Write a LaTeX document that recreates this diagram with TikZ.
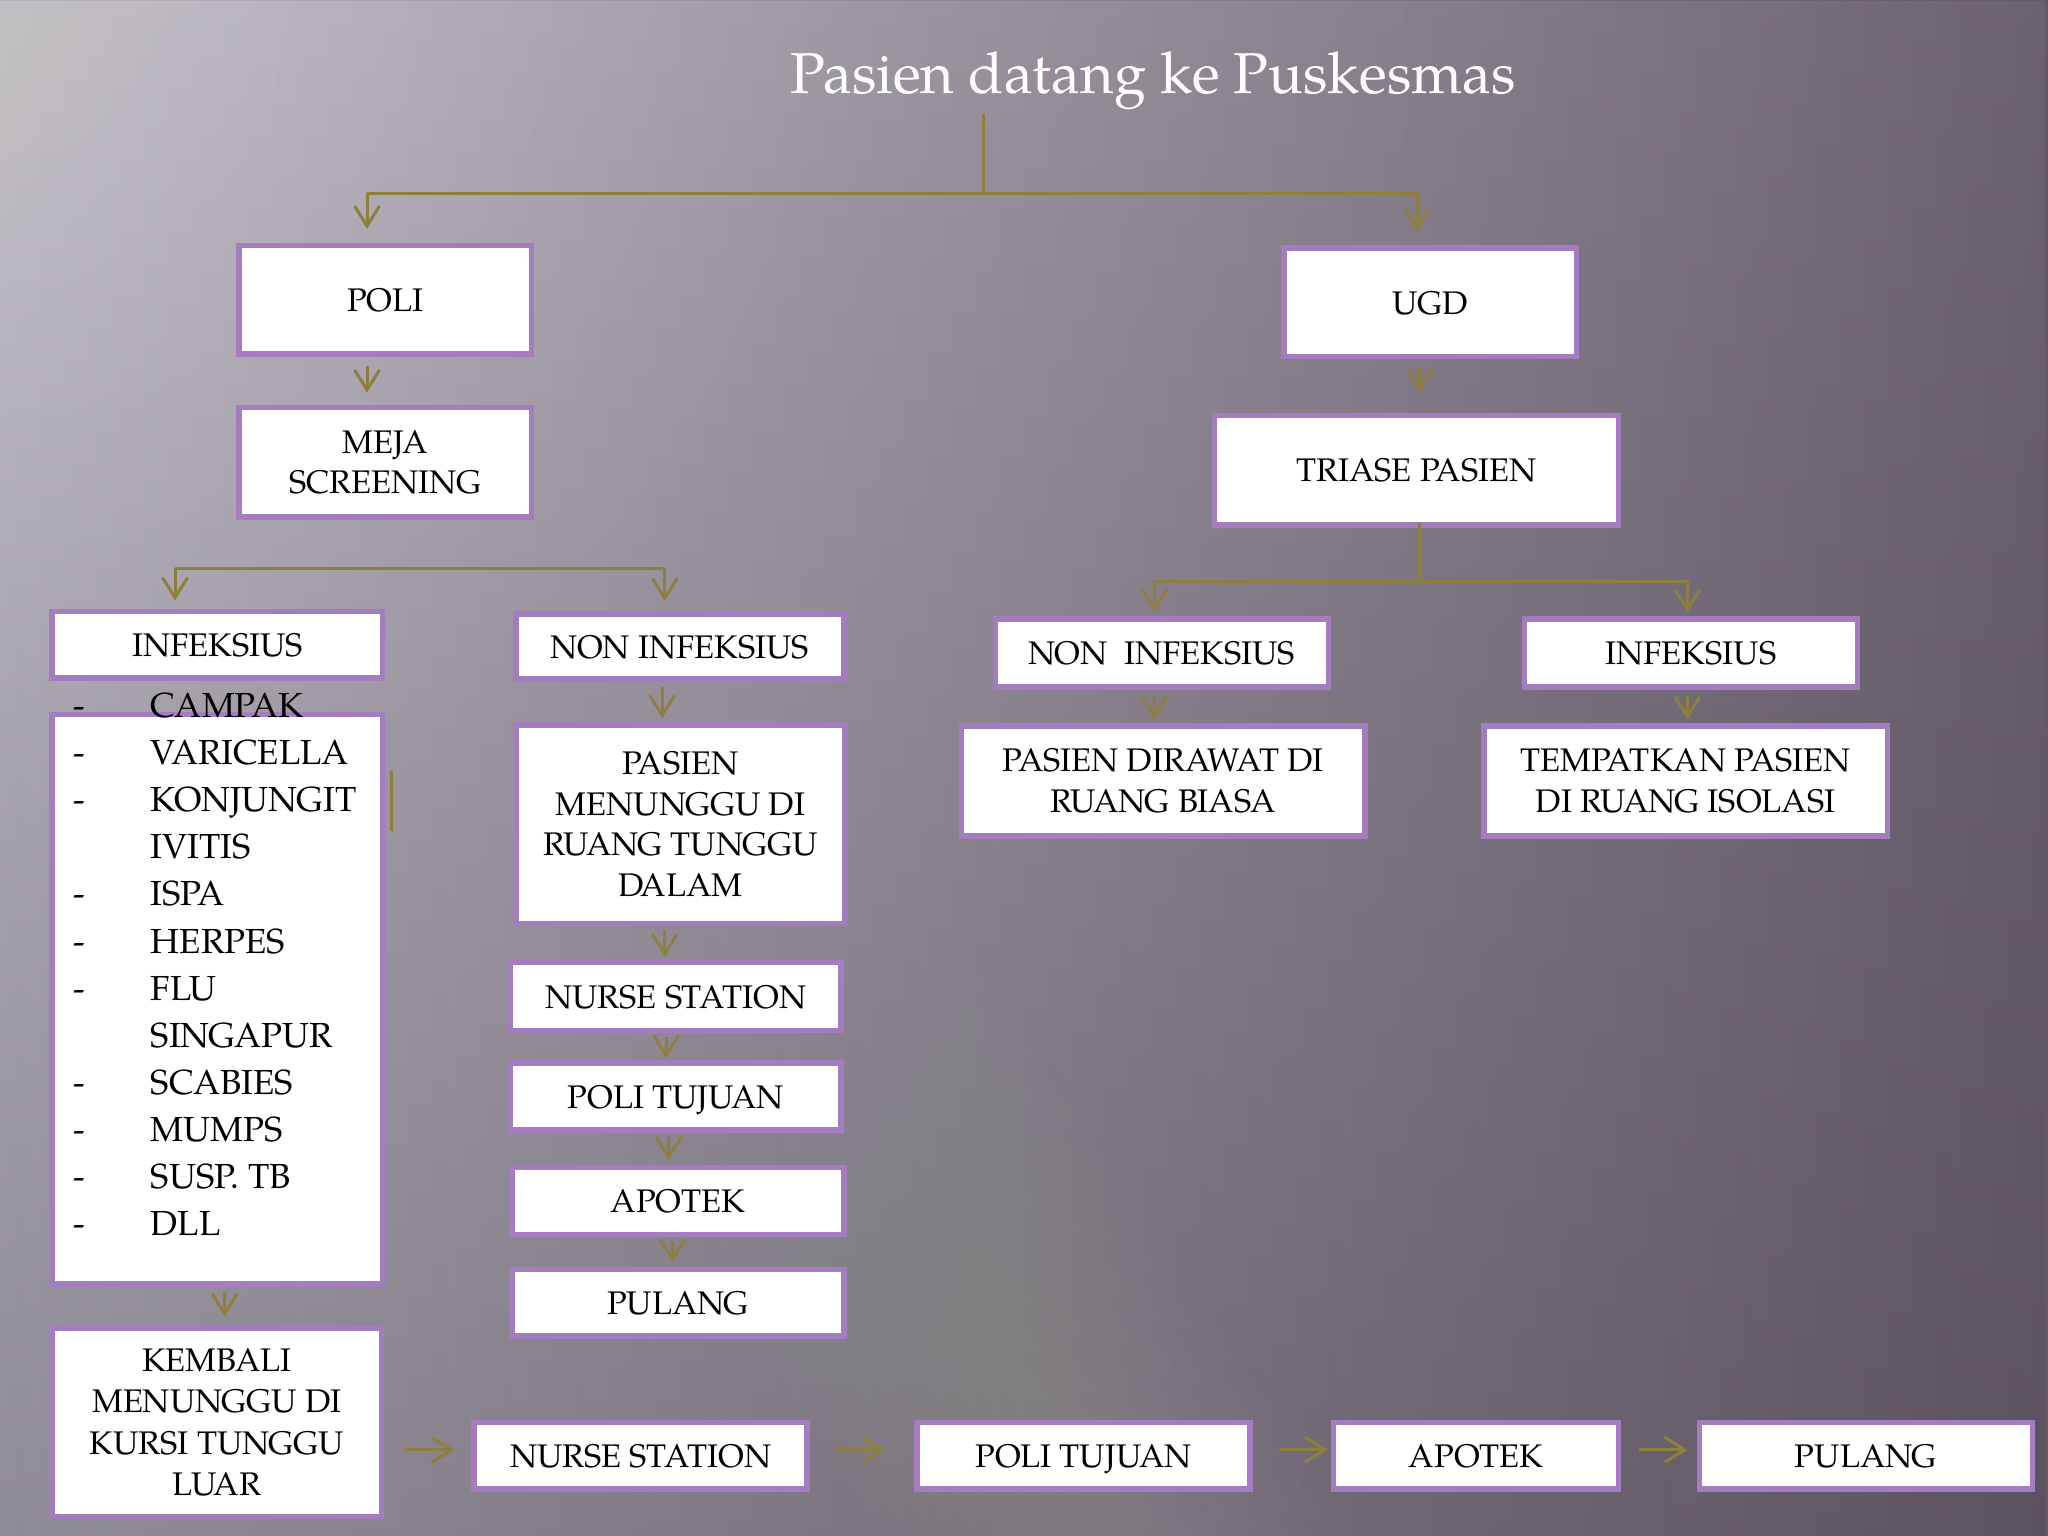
\documentclass[tikz,border=0pt]{standalone}
\usepackage{fontspec}
\setmainfont{texgyrepagella-regular.otf}
\usetikzlibrary{arrows.meta,fadings,calc}
\definecolor{bgL}{HTML}{B0ABB6}
\definecolor{bgM}{HTML}{7A7480}
\definecolor{bgR}{HTML}{625866}
\definecolor{brd}{HTML}{A47DC0}
\definecolor{lnc}{HTML}{8E7F3E}
\tikzfading[name=fadeR, left color=transparent!0, right color=transparent!65]
\def\upx{0.13061mm}
\tikzset{
  box/.style={draw=brd, fill=white, line width=0.55mm, inner sep=0pt, align=center,
    font=\fontsize{9.3}{11.6}\selectfont, text=black},
  sbox/.style={box, text height=0.69em, text depth=0.02em},
  ln/.style={draw=lnc, line width=0.3mm},
  arr/.style={ln, -{Straight Barb[length=2mm,width=2.5mm]}},
}
\begin{document}
\begin{tikzpicture}[x=0.13061mm, y=-0.13061mm]
\useasboundingbox (0,0) rectangle (1568,1176);
% background
\shade[left color=bgL, middle color=bgM, right color=bgR] (0,0) rectangle (1568,1176);
\shade[top color=white, bottom color=black, opacity=0.18, path fading=fadeR] (0,0) rectangle (1568,1176);
\begin{scope}
\clip (0,0) rectangle (1568,1176);
\foreach \r in {120,220,...,620} \fill[white, opacity=0.014] (0,0) circle (\r);
\coordinate (sA) at (-100,-235);
\coordinate (sB) at (1020,1411);
\foreach \w in {15,30,...,150}
  \fill[white, opacity=0.008] ($(sA)+\w*(0.8268,-0.5625)$) -- ($(sB)+\w*(0.8268,-0.5625)$) -- ($(sB)-\w*(0.8268,-0.5625)$) -- ($(sA)-\w*(0.8268,-0.5625)$) -- cycle;
\end{scope}

% title
\node[text=white, font=\fontsize{16.4}{20}\selectfont, inner sep=1pt] (title) at (883,62) {Pasien datang ke Puskesmas};

% boxes
\node[sbox, minimum width=224*\upx, minimum height=83*\upx] (poli) at (295,229.5) {POLI};
\node[sbox, minimum width=224*\upx, minimum height=83*\upx] (ugd) at (1095,231.5) {UGD};
\node[box, minimum width=224*\upx, minimum height=84*\upx] (meja) at (295,354) {MEJA\\SCREENING};
\node[sbox, minimum width=309*\upx, minimum height=84*\upx] (triase) at (1084.5,360) {TRIASE PASIEN};

\node[sbox, minimum width=253*\upx, minimum height=51*\upx] (infL) at (166.5,493.5) {INFEKSIUS};
\node[box, minimum width=253*\upx, minimum height=436*\upx] (listbox) at (166.5,765) {};
\node[box, minimum width=252*\upx, minimum height=144*\upx, font=\fontsize{9.3}{11.7}\selectfont] (kembali) at (166,1089) {KEMBALI\\MENUNGGU DI\\KURSI TUNGGU\\LUAR};

\node[sbox, minimum width=251*\upx, minimum height=50*\upx] (nonL) at (520.5,495) {NON INFEKSIUS};
\node[box, minimum width=252*\upx, minimum height=152*\upx] (pasienM) at (521,631) {PASIEN\\MENUNGGU DI\\RUANG TUNGGU\\DALAM};
\node[sbox, minimum width=253*\upx, minimum height=52*\upx] (ns1) at (517.5,763) {NURSE STATION};
\node[sbox, minimum width=253*\upx, minimum height=51*\upx] (pt1) at (517.5,839.5) {POLI TUJUAN};
\node[sbox, minimum width=254*\upx, minimum height=51*\upx] (ap1) at (519,919.5) {APOTEK};
\node[sbox, minimum width=254*\upx, minimum height=51*\upx] (pu1) at (519,997.5) {PULANG};

\node[sbox, minimum width=255*\upx, minimum height=52*\upx] (nonR) at (889.5,500) {NON\ \ INFEKSIUS};
\node[sbox, minimum width=255*\upx, minimum height=52*\upx] (infR) at (1294.5,500) {INFEKSIUS};
\node[box, minimum width=309*\upx, minimum height=84*\upx] (dirawat) at (890.5,598) {PASIEN DIRAWAT DI\\RUANG BIASA};
\node[box, minimum width=309*\upx, minimum height=84*\upx] (isolasi) at (1290.5,598) {TEMPATKAN PASIEN\\DI RUANG ISOLASI};

\node[sbox, minimum width=255*\upx, minimum height=51*\upx] (ns2) at (490.5,1114.5) {NURSE STATION};
\node[sbox, minimum width=255*\upx, minimum height=51*\upx] (pt2) at (829.5,1114.5) {POLI TUJUAN};
\node[sbox, minimum width=218*\upx, minimum height=51*\upx] (ap2) at (1130,1114.5) {APOTEK};
\node[sbox, minimum width=255*\upx, minimum height=51*\upx] (pu2) at (1428.5,1114.5) {PULANG};

% list text
\node[anchor=base west, inner sep=0pt, align=left, font=\fontsize{9.9}{13.4}\selectfont] (list) at (56,946)
{\makebox[7.7mm][l]{-}CAMPAK\\
 \makebox[7.7mm][l]{-}VARICELLA\\
 \makebox[7.7mm][l]{-}KONJUNGIT\\
 \makebox[7.7mm][l]{}IVITIS\\
 \makebox[7.7mm][l]{-}ISPA\\
 \makebox[7.7mm][l]{-}HERPES\\
 \makebox[7.7mm][l]{-}FLU\\
 \makebox[7.7mm][l]{}SINGAPUR\\
 \makebox[7.7mm][l]{-}SCABIES\\
 \makebox[7.7mm][l]{-}MUMPS\\
 \makebox[7.7mm][l]{-}SUSP. TB\\
 \makebox[7.7mm][l]{-}DLL};
\draw[ln] (300,590) -- (300,636);

% connectors top
\coordinate (tj) at (753,148);
\coordinate (aL) at (281,148);
\coordinate (aR) at (1085,148);
\draw[ln] (title.south -| tj) -- (tj);
\draw[ln] (aL) -- (aR);
\draw[arr, shorten >=1.4mm] (aL) -- (poli.north -| aL);
\draw[arr, shorten >=1.4mm] (aR) -- (ugd.north -| aR);
\draw[arr, shorten <=0.9mm, shorten >=1.2mm] (poli.south -| aL) -- (meja.north -| aL);
\coordinate (uL) at (1087,300);
\draw[arr, shorten <=0.9mm, shorten >=2mm] (ugd.south -| uL) -- (triase.north -| uL);

% triase branch
\coordinate (tr) at (1087,445);
\coordinate (trL) at (884,445);
\coordinate (trR) at (1292,445);
\draw[ln] ([yshift=0.5mm]triase.south -| tr) -- (tr);
\draw[ln] (trL) -- (trR);
\draw[arr, shorten >=0.4mm] (trL) -- (nonR.north -| trL);
\draw[arr, shorten >=0.4mm] (trR) -- (infR.north -| trR);
\draw[arr, shorten <=0.5mm, shorten >=0.4mm] (nonR.south -| trL) -- (dirawat.north -| trL);
\draw[arr, shorten <=0.5mm, shorten >=0.4mm] (infR.south -| trR) -- (isolasi.north -| trR);

% meja branch
\coordinate (mL) at (134,435);
\coordinate (mR) at (509,435);
\draw[ln] (mL) -- (mR);
\draw[arr, shorten >=0.8mm] (mL) -- (infL.north -| mL);
\draw[arr, shorten >=1mm] (mR) -- (nonL.north -| mR);

% middle column
\coordinate (c1) at (507,0);
\coordinate (c2) at (509,0);
\coordinate (c3) at (510,0);
\coordinate (c4) at (512,0);
\coordinate (c5) at (515,0);
\draw[arr, shorten <=0.5mm, shorten >=0.4mm] (nonL.south -| c1) -- (pasienM.north -| c1);
\draw[arr, shorten <=0.4mm, shorten >=0.3mm] (pasienM.south -| c2) -- (ns1.north -| c2);
\draw[arr, shorten <=0.4mm, shorten >=0.2mm] (ns1.south -| c3) -- (pt1.north -| c3);
\draw[arr, shorten <=0.4mm, shorten >=0.5mm] (pt1.south -| c4) -- (ap1.north -| c4);
\draw[arr, shorten <=0.4mm, shorten >=0.5mm] (ap1.south -| c5) -- (pu1.north -| c5);

% left column
\coordinate (k1) at (172,0);
\draw[arr, shorten <=0.5mm, shorten >=0.9mm] (listbox.south -| k1) -- (kembali.north -| k1);

% bottom row
\coordinate (b1) at (0,1110);
\draw[arr, shorten <=2mm, shorten >=1.7mm] (kembali.east |- b1) -- (ns2.west |- b1);
\draw[arr, shorten <=2.6mm, shorten >=2.9mm] (ns2.east |- b1) -- (pt2.west |- b1);
\draw[arr, shorten <=2.7mm, shorten >=0.3mm] (pt2.east |- b1) -- (ap2.west |- b1);
\draw[arr, shorten <=1.8mm, shorten >=0.9mm] (ap2.east |- b1) -- (pu2.west |- b1);
\end{tikzpicture}
\end{document}
